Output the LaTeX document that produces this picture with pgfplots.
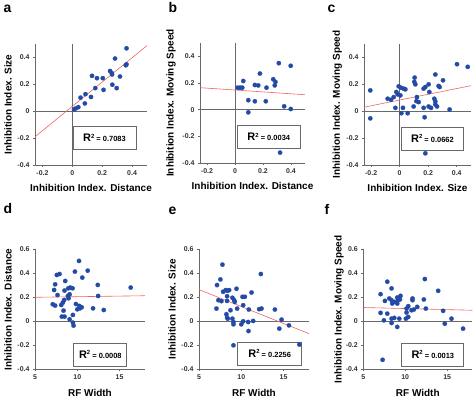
\documentclass[border=0pt]{standalone}
\usepackage{pgfplots}
\pgfplotsset{compat=1.18}
\usepackage{fontspec}
\setmainfont{Liberation Sans}
\definecolor{dotblue}{RGB}{35,75,165}
\definecolor{fitred}{RGB}{238,100,100}
\definecolor{axgray}{RGB}{105,105,105}
\pgfplotsset{
  panel/.style={
    scale only axis,
    axis x line*=bottom, axis y line*=left,
    axis line style={draw=axgray, line width=0.7bp},
    every tick/.style={draw=axgray, line width=0.5bp},
    major tick length=2bp,
    tick align=outside,
    ticklabel style={font=\fontsize{7}{8}\selectfont\bfseries, text=black!80},
    xlabel style={font=\fontsize{10}{12}\selectfont\bfseries, at={(axis description cs:0.5,0)}, anchor=center, yshift=-23bp},
    ylabel style={font=\fontsize{10}{12}\selectfont\bfseries, anchor=center},
  },
  toprow/.style={xmin=-0.25, xmax=0.5, ymin=-0.4, ymax=0.5,
    xtick={-0.2,0,0.2,0.4}, xticklabels={-0.2,0,0.2,0.4},
    ytick={-0.4,-0.2,0,0.2,0.4}, yticklabels={-0.4,-0.2,0,0.2,0.4}},
  botrow/.style={xmin=5, xmax=18, ymin=-0.4, ymax=0.6,
    xtick={5,10,15}, xticklabels={5,10,15},
    ytick={-0.4,-0.2,0,0.2,0.4,0.6}, yticklabels={-0.4,-0.2,0,0.2,0.4,0.6},
    xlabel={RF Width}, xlabel style={yshift=-1bp}},
  dots/.style={only marks, mark=*, mark size=2.2bp, mark options={fill=dotblue, draw=dotblue, line width=0.2bp}},
  fit/.style={no marks, fitred, line width=0.6bp},
  zero/.style={no marks, axgray, line width=0.7bp},
}
\newcommand{\rsq}[1]{{\fontsize{11}{12}\selectfont\bfseries R\raisebox{3.5bp}{\fontsize{6}{6}\selectfont 2}\fontsize{7.5}{8}\selectfont\ = #1}}
\tikzset{rbox/.style={draw=axgray, line width=0.7bp, fill=white, minimum height=23bp, inner sep=0pt}}
\begin{document}
\begin{tikzpicture}
\useasboundingbox (0,0) rectangle (474bp,399bp);
\tikzset{plabel/.style={anchor=base west, font=\fontsize{14}{14}\selectfont\bfseries}}
\node[plabel] at (0bp,386bp) {a};
\node[plabel] at (165bp,386bp) {b};
\node[plabel] at (324bp,386bp) {c};
\node[plabel] at (0bp,185bp) {d};
\node[plabel] at (165bp,184bp) {e};
\node[plabel] at (321bp,184bp) {f};

% ---- a
\begin{axis}[panel, toprow, at={(35bp,234bp)}, anchor=south west, width=112bp, height=121bp,
  xlabel={Inhibition Index. Distance}, ylabel={Inhibition Index. Size},
  ylabel style={at={(axis description cs:-0.24,0.5)}}]
\addplot[zero] coordinates {(-0.25,0) (0.5,0)};
\addplot[zero] coordinates {(0,-0.4) (0,0.5)};
\addplot[dots] table {
x y
0.363 0.468
0.286 0.392
0.363 0.349
0.358 0.342
0.253 0.299
0.264 0.284
0.266 0.273
0.319 0.258
0.132 0.263
0.165 0.246
0.204 0.246
0.268 0.197
0.297 0.172
0.209 0.159
0.154 0.172
0.088 0.127
0.125 0.106
0.055 0.101
0.084 0.058
0.040 0.030
0.022 0.020
0.011 0.013
};
\addplot[fit] coordinates {(-0.25,-0.19) (0.5,0.488)};
\node[rbox, minimum width=63bp] at (axis description cs:0.62,0.225) {\rsq{0.7083}};
\end{axis}

% ---- b
\begin{axis}[panel, toprow, at={(200bp,236bp)}, anchor=south west, width=105bp, height=120bp,
  xlabel={Inhibition Index. Distance}, ylabel={Inhibition Index. Moving Speed},
  ylabel style={at={(axis description cs:-0.276,0.5)}}]
\addplot[zero] coordinates {(-0.25,0) (0.5,0)};
\addplot[zero] coordinates {(0,-0.4) (0,0.5)};
\addplot[dots] table {
x y
0.313 0.349
0.398 0.329
0.178 0.271
0.059 0.215
0.273 0.228
0.289 0.208
0.284 0.182
0.142 0.185
0.166 0.182
0.225 0.165
0.019 0.165
0.036 0.165
0.052 0.165
0.095 0.071
0.142 0.063
0.220 0.063
0.095 -0.020
0.351 0.025
0.398 0.005
0.322 -0.322
};
\addplot[fit] coordinates {(-0.25,0.165) (0.5,0.112)};
\node[rbox, minimum width=63bp] at (axis description cs:0.655,0.215) {\rsq{0.0034}};
\end{axis}

% ---- c
\begin{axis}[panel, toprow, at={(364bp,234bp)}, anchor=south west, width=107bp, height=121bp,
  xlabel={Inhibition Index. Size}, ylabel={Inhibition Index. Moving Speed},
  ylabel style={at={(axis description cs:-0.25,0.5)}}]
\addplot[zero] coordinates {(-0.25,0) (0.5,0)};
\addplot[zero] coordinates {(0,-0.4) (0,0.5)};
\addplot[dots] table {
x y
0.402 0.350
0.477 0.330
0.250 0.273
0.304 0.230
0.105 0.250
0.103 0.218
0.110 0.200
0.203 0.200
0.180 0.180
0.168 0.168
0.273 0.188
0.280 0.180
-0.007 0.185
0.009 0.175
0.028 0.168
0.040 0.163
-0.206 0.155
-0.023 0.143
-0.014 0.125
0.005 0.118
-0.042 0.105
-0.084 0.093
-0.061 0.085
0.121 0.105
0.117 0.075
0.133 0.068
0.208 0.143
0.243 0.093
0.250 0.073
0.250 0.050
-0.030 0.025
0.098 0.035
0.023 0.025
0.168 0.025
0.203 0.035
0.220 0.025
0.262 0.035
0.350 0.013
0.012 -0.015
0.056 -0.015
-0.206 -0.053
0.175 -0.045
0.180 -0.313
};
\addplot[fit] coordinates {(-0.25,0.03) (0.5,0.19)};
\node[rbox, minimum width=62bp] at (axis description cs:0.64,0.22) {\rsq{0.0662}};
\end{axis}

% ---- d
\begin{axis}[panel, botrow, at={(35bp,29.7bp)}, anchor=south west, width=110bp, height=120bp,
  ylabel={Inhibition Index. Distance},
  ylabel style={at={(axis description cs:-0.245,0.5)}}]
\addplot[zero] coordinates {(5,0) (18,0)};
\addplot[dots] table {
x y
10.20 0.503
11.23 0.422
7.90 0.394
7.58 0.386
9.72 0.414
10.59 0.364
8.57 0.336
7.38 0.308
12.42 0.303
16.31 0.281
9.17 0.281
9.44 0.275
8.93 0.275
7.26 0.261
8.49 0.256
9.09 0.225
7.66 0.219
8.89 0.211
8.97 0.192
12.46 0.211
8.45 0.178
8.29 0.156
8.10 0.136
7.10 0.142
7.38 0.131
9.84 0.144
10.24 0.128
10.32 0.108
10.52 0.117
10.00 0.100
11.86 0.108
13.13 0.094
8.37 0.089
8.17 0.039
8.49 0.039
9.48 0.053
9.09 0.017
9.48 -0.011
9.56 -0.036
};
\addplot[fit] coordinates {(5,0.2) (18,0.213)};
\node[rbox, minimum width=53bp] at (axis description cs:0.594,0.123) {\rsq{0.0008}};
\end{axis}

% ---- e
\begin{axis}[panel, botrow, at={(199bp,29.7bp)}, anchor=south west, width=110bp, height=120bp,
  ylabel={Inhibition Index. Size},
  ylabel style={at={(axis description cs:-0.245,0.5)}}]
\addplot[zero] coordinates {(5,0) (18,0)};
\addplot[dots] table {
x y
7.77 0.472
7.53 0.349
7.13 0.302
12.31 0.394
7.85 0.246
8.16 0.260
8.36 0.254
8.56 0.260
9.43 0.271
11.21 0.240
7.29 0.176
7.65 0.168
8.32 0.209
8.32 0.170
8.95 0.196
9.15 0.176
9.23 0.162
10.14 0.204
10.42 0.204
10.22 0.134
7.06 0.106
8.72 0.092
9.51 0.106
10.89 0.098
12.11 0.101
12.39 0.106
13.97 0.098
8.24 0.059
8.32 0.031
8.40 0.022
8.95 0.022
9.07 -0.006
9.07 -0.025
10.22 0.000
10.00 -0.025
10.81 -0.006
11.40 0.003
14.76 0.014
10.85 -0.081
14.49 -0.061
15.63 -0.034
9.07 -0.200
16.86 -0.194
};
\addplot[fit] coordinates {(5,0.264) (18,-0.103)};
\node[rbox, minimum width=64bp] at (axis description cs:0.643,0.13) {\rsq{0.2256}};
\end{axis}

% ---- f
\begin{axis}[panel, botrow, at={(363.3bp,29.7bp)}, anchor=south west, width=109bp, height=120bp,
  ylabel={Inhibition Index. Moving Speed},
  ylabel style={at={(axis description cs:-0.223,0.5)}}]
\addplot[zero] coordinates {(5,0) (18,0)};
\addplot[dots] table {
x y
12.34 0.352
7.86 0.330
8.37 0.274
13.93 0.254
7.06 0.226
9.44 0.212
9.05 0.198
9.37 0.182
8.10 0.190
8.37 0.176
10.87 0.190
10.87 0.176
12.22 0.182
7.58 0.170
8.77 0.162
8.45 0.148
9.05 0.148
9.17 0.176
10.36 0.126
10.16 0.106
11.43 0.120
11.03 0.098
10.75 0.092
12.46 0.106
14.52 0.087
10.16 0.073
7.06 0.070
7.86 0.064
10.36 0.036
10.08 0.022
8.69 0.028
8.37 0.022
9.29 0.022
15.52 0.022
7.46 0.008
8.37 -0.014
14.72 -0.020
9.05 -0.047
16.90 -0.061
7.30 -0.321
};
\addplot[fit] coordinates {(5,0.115) (18,0.092)};
\node[rbox, minimum width=62bp] at (axis description cs:0.638,0.123) {\rsq{0.0013}};
\end{axis}
\end{tikzpicture}
\end{document}
